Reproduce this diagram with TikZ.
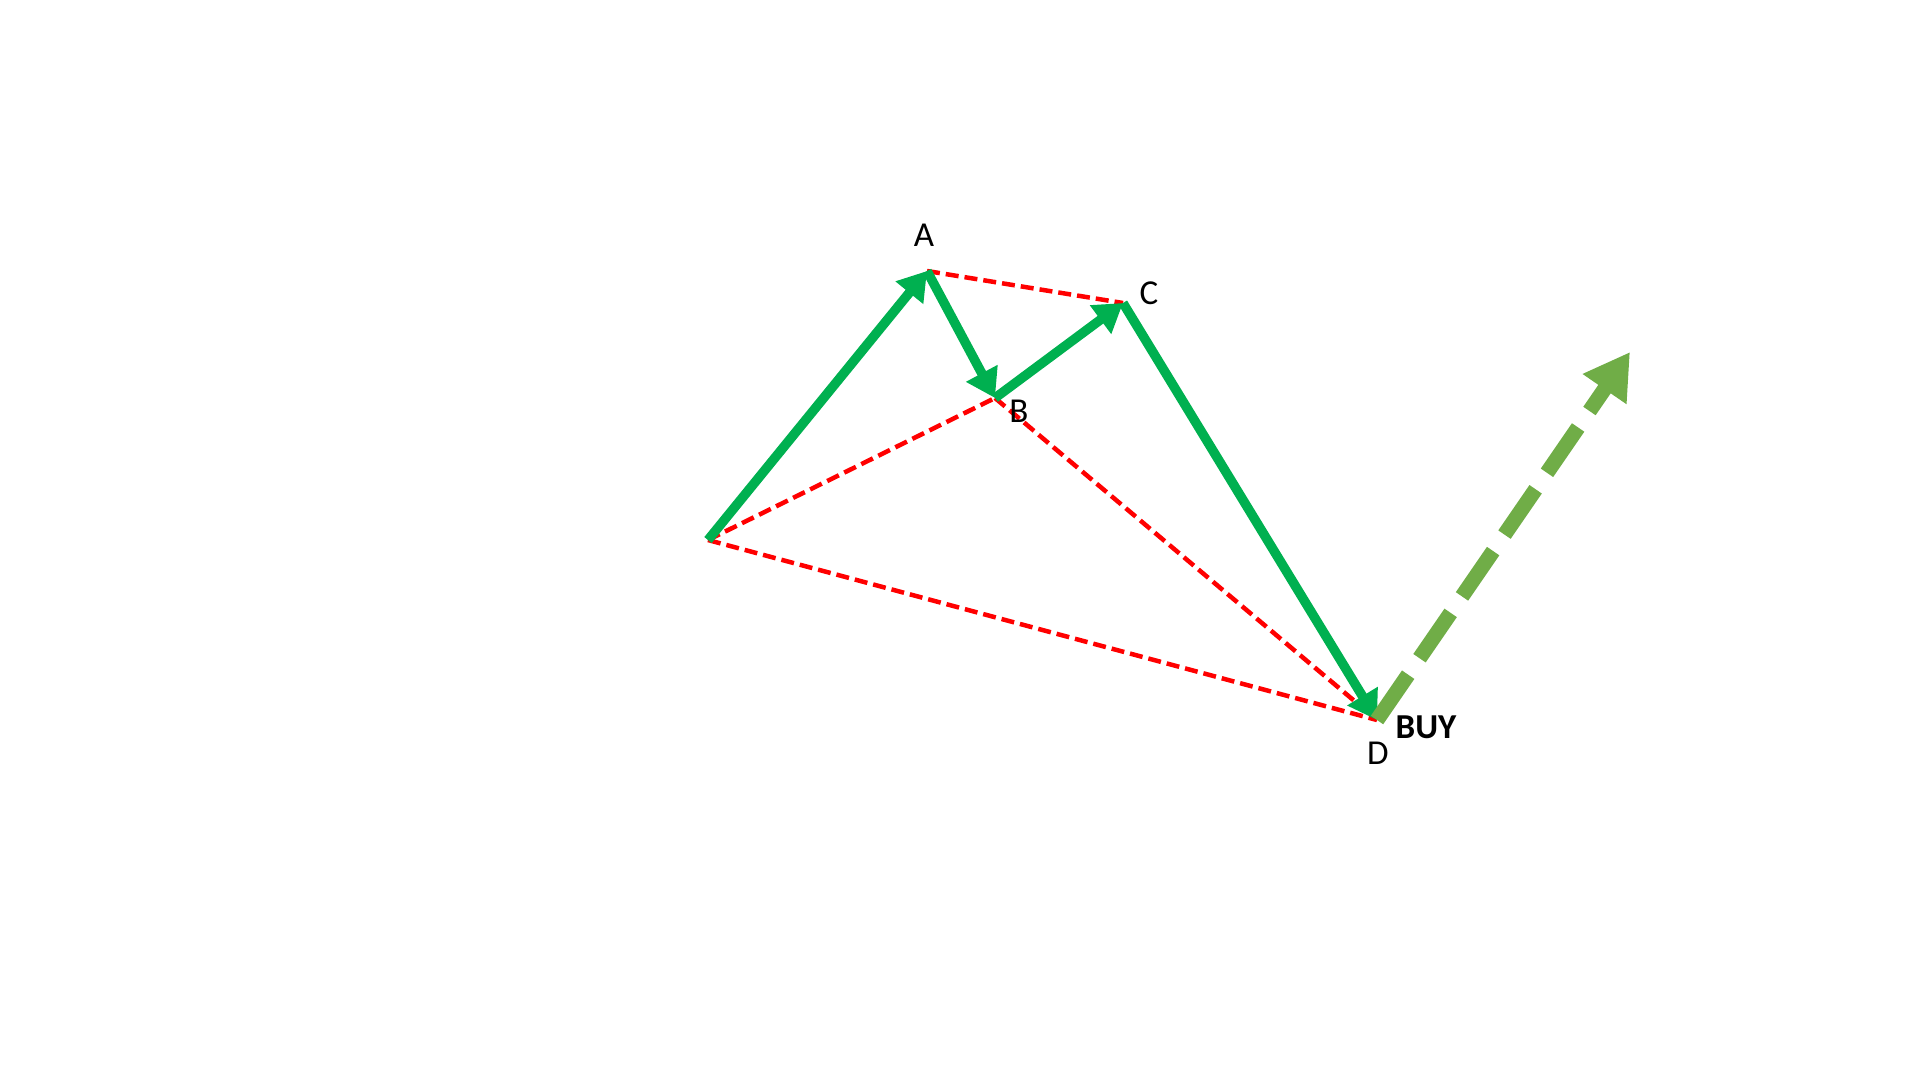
\documentclass[tikz,border=0pt]{standalone}
\usepackage{fontspec}
\setmainfont{Carlito}
\usetikzlibrary{arrows.meta}
\definecolor{wgreen}{HTML}{00B050}
\definecolor{lgreen}{HTML}{70AD47}
\definecolor{wred}{HTML}{FF0000}
\tikzset{
  leg/.style={draw=wgreen, line width=9.5pt, -{Triangle[length=28pt,width=34pt]}},
  guide/.style={draw=wred, line width=4.5pt, dash pattern=on 13pt off 6pt},
  buyarrow/.style={draw=lgreen, line width=15pt, dash pattern=on 55pt off 20pt, -{Triangle[length=45pt,width=50pt]}},
  lbl/.style={font=\fontsize{35}{42}\selectfont, inner sep=0pt}
}
\begin{document}
\begin{tikzpicture}[x=1pt,y=-1pt]
\useasboundingbox (0,0) rectangle (1920,1080);
\coordinate (X) at (708,540);
\coordinate (A) at (927,271);
\coordinate (B) at (995,398);
\coordinate (C) at (1123,303);
\coordinate (D) at (1377,720);
\coordinate (T) at (1630,352);
% red guide lines
\draw[guide] (A) -- (C);
\draw[guide] (X) -- (B);
\draw[guide] (B) -- (D);
\draw[guide] (X) -- (D);
% green legs
\draw[leg] (X) -- (A);
\draw[leg] (A) -- (B);
\draw[leg] (B) -- (C);
\draw[leg] (C) -- (D);
% buy arrow
\draw[buyarrow] (D) -- (T);
% labels
\node[lbl] (lA) at (924,235) {A};
\node[lbl] (lB) at (1019,411) {B};
\node[lbl] (lC) at (1149,293) {C};
\node[lbl] (lD) at (1378,753) {D};
\node[lbl, font=\fontsize{35}{42}\selectfont\bfseries] (lBuy) at (1426,727) {BUY};
\end{tikzpicture}
\end{document}
